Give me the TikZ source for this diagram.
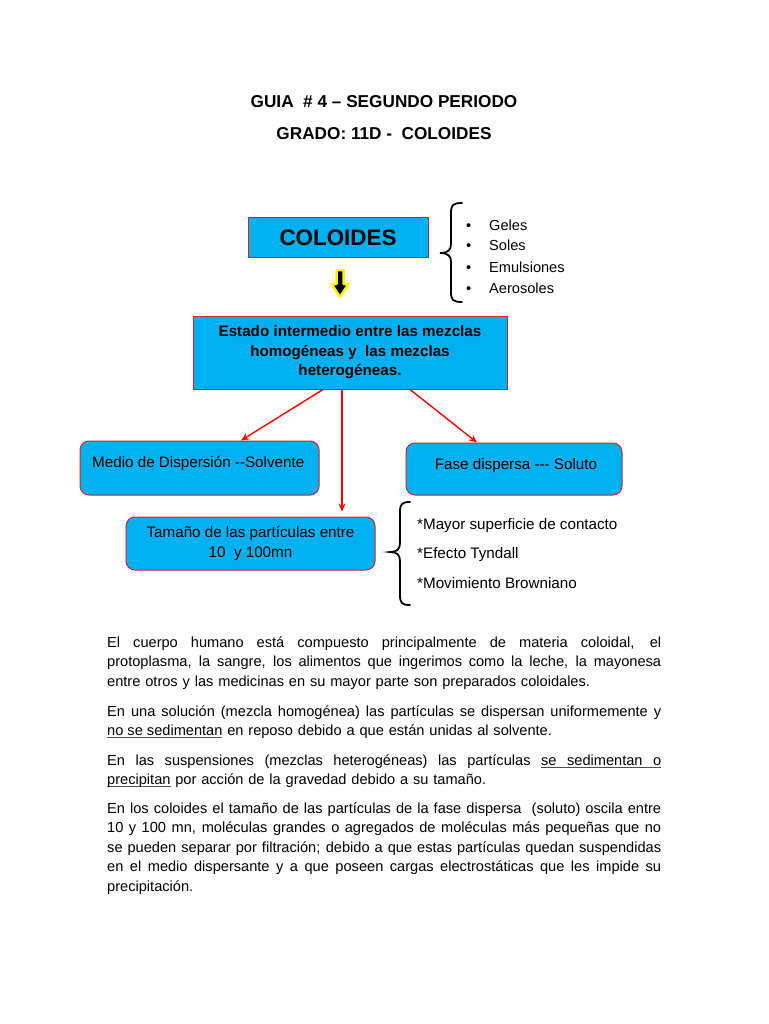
\documentclass[tikz,border=0pt]{standalone}
\usepackage{fontspec}
\setmainfont{Liberation Sans}
\usetikzlibrary{arrows.meta}
\definecolor{boxcyan}{RGB}{0,176,240}
\definecolor{boxred}{RGB}{205,35,45}
\definecolor{ulgray}{RGB}{80,80,80}
\newcommand{\fl}[1]{\makebox[554pt][s]{\spaceskip=0pt\xspaceskip=0pt #1}}
\newcommand{\ulw}[1]{\leavevmode\setbox0\hbox{#1}\rlap{\color{ulgray}\rule[-2.4pt]{\wd0}{0.8pt}}\box0\relax}
\newcommand{\ulsp}{\leavevmode{\color{ulgray}\leaders\hrule height -1.6pt depth 2.4pt\hskip\fontdimen2\font plus\fontdimen3\font minus\fontdimen4\font}}
\begin{document}
\begin{tikzpicture}[x=1pt,y=-1pt,
  box/.style={draw=boxred, line width=1pt, fill=boxcyan, inner sep=0pt},
  rbox/.style={box, rounded corners=9pt},
  conn/.style={draw=red, line width=1.4pt, -{Stealth[length=8pt,width=7pt]}},
  body/.style={font=\fontsize{14.6}{19.5}\selectfont, inner sep=0pt},
  btxt/.style={font=\fontsize{15.2}{19.8}\selectfont, inner sep=0pt},
  para/.style={body, anchor=base west, text width=554pt, align=left},
  brace/.style={draw=black, line width=1.8pt, line cap=round},
  title/.style={font=\fontsize{17.2}{20}\selectfont\bfseries, anchor=base}
]
\useasboundingbox (0,0) rectangle (768,1024);
\fill[white] (0,0) rectangle (768,1024);

% titles
\node[title] (t1) at (384,108) {GUIA \ \# 4 -- SEGUNDO PERIODO};
\node[title] (t2) at (384,140) {GRADO: 11D - \ COLOIDES};

% top box
\node[box, minimum width=180pt, minimum height=39pt, font=\fontsize{22.4}{26}\selectfont\bfseries] (col) at (338,237.5) {COLOIDES};

% black arrow with yellow glow
\coordinate (ar) at (340,270);
\filldraw[draw=yellow, line width=2.5pt, line join=round, fill=black]
  ([xshift=-3.5pt]ar) -- ++(0,14) -- ++(-5,0) -- (340,297) -- (348.5,284) -- ++(-5,0) -- ++(0,-14) -- cycle;

% brace 1
\coordinate (b1t) at (462,203);
\coordinate (b1m) at (440,253);
\coordinate (b1b) at (462,302);
\draw[brace] (b1t) .. controls (453,203) and (451,205) .. (451,213) -- (451,244)
  .. controls (451,250) and (448,253) .. (b1m)
  .. controls (448,253) and (451,256) .. (451,262) -- (451,292)
  .. controls (451,300) and (453,302) .. (b1b);

% bullet list
\foreach \t/\yy/\nm in {Geles/231/g1, Soles/251/g2, Emulsiones/272/g3, Aerosoles/293/g4}{
  \node[body, anchor=base west] (\nm b) at (466,\yy) {\textbullet};
  \node[body, anchor=base west] (\nm) at (489,\yy) {\t};
}

% box 2
\node[box, minimum width=314pt, minimum height=73pt, align=center,
  font=\fontsize{15.2}{19.5}\selectfont\bfseries] (est) at (350,352.5)
  {Estado intermedio entre las mezclas\\homogéneas y \ las mezclas\\heterogéneas.};

% lower boxes
\node[rbox, minimum width=239pt, minimum height=54pt] (medio) at (199.5,468) {};
\node[btxt, anchor=base west] (mediot) at (92,467) {Medio de Dispersión -{}-Solvente};
\node[rbox, minimum width=216pt, minimum height=52pt] (fase) at (514,469) {};
\node[btxt, anchor=base] (faset) at (516,469) {Fase dispersa -{}-{}- Soluto};
\node[rbox, minimum width=249pt, minimum height=53pt, align=center, btxt] (tam) at (250.5,543.5)
  {Tamaño de las partículas entre\\10 \ y 100mn};

% connectors
\draw[conn] ([xshift=-27pt]est.south) -- ([xshift=41.5pt]medio.north);
\draw[conn] ([xshift=-8pt]est.south) -- ([xshift=-8pt,yshift=5pt]est.south |- tam.north);
\draw[conn] ([xshift=60pt]est.south) -- ([xshift=-37pt]fase.north);

% brace 2
\coordinate (b2t) at (410,502);
\coordinate (b2m) at (390,552);
\coordinate (b2b) at (410,605);
\draw[brace] (b2t) .. controls (402,502) and (400,504) .. (400,512) -- (400,543)
  .. controls (400,549) and (397,552) .. (b2m)
  .. controls (397,552) and (400,555) .. (400,561) -- (400,595)
  .. controls (400,603) and (402,605) .. (b2b);

\node[btxt, anchor=base west] (p1) at (417,529) {*Mayor superficie de contacto};
\node[btxt, anchor=base west] (p2) at (417,558) {*Efecto Tyndall};
\node[btxt, anchor=base west] (p3) at (417,588) {*Movimiento Browniano};

% paragraphs
\node[para] (par1) at (107,647) {%
\fl{El cuerpo humano está compuesto principalmente de materia coloidal, el}\\
\fl{protoplasma, la sangre, los alimentos que ingerimos como la leche, la mayonesa}\\
entre otros y las medicinas en su mayor parte son preparados coloidales.};

\node[para] (par2) at (107,716) {%
\fl{En una solución (mezcla homogénea) las partículas se dispersan uniformemente y}\\
\ulw{no}\ulsp\ulw{se}\ulsp\ulw{sedimentan} en reposo debido a que están unidas al solvente.};

\node[para] (par3) at (107,765) {%
\fl{En las suspensiones (mezclas heterogéneas) las partículas \ulw{se}\ulsp\ulw{sedimentan}\ulsp\ulw{o}}\\
\ulw{precipitan} por acción de la gravedad debido a su tamaño.};

\node[para] (par4) at (107,813) {%
\fl{En los coloides el tamaño de las partículas de la fase dispersa \ (soluto) oscila entre}\\
\fl{10 y 100 mn, moléculas grandes o agregados de moléculas más pequeñas que no}\\
\fl{se pueden separar por filtración; debido a que estas partículas quedan suspendidas}\\
\fl{en el medio dispersante y a que poseen cargas electrostáticas que les impide su}\\
precipitación.};
\end{tikzpicture}
\end{document}
